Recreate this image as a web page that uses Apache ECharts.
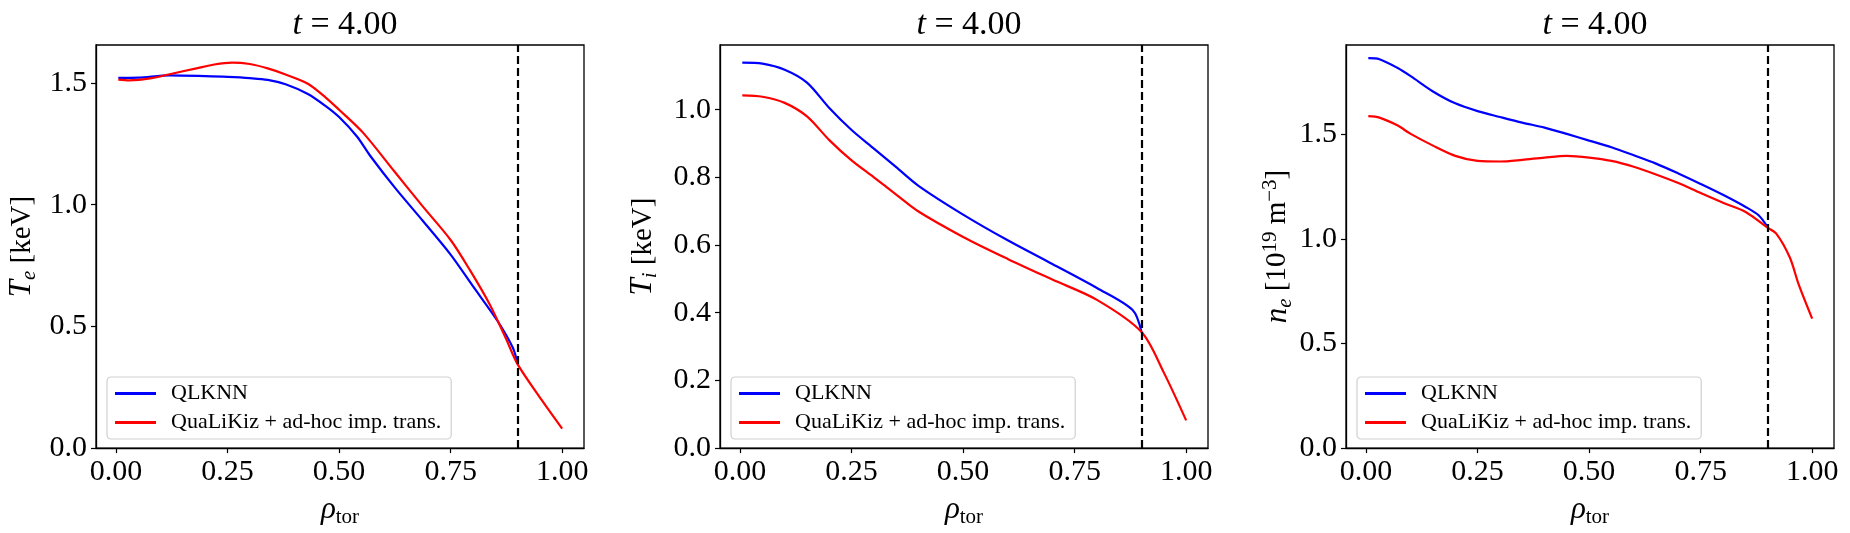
<!DOCTYPE html>
<html>
<head>
<meta charset="utf-8">
<script src="https://cdn.jsdelivr.net/npm/echarts@6/dist/echarts.min.js"></script>
<style>
html,body{margin:0;padding:0;background:#fff;}
#main{width:1850px;height:533px;}
</style>
</head>
<body>
<div id="main"></div>
<script>
var chart = echarts.init(document.getElementById('main'));

// ---- data ----
var teBlueX = [0.005, 0.05, 0.12, 0.2, 0.25, 0.3, 0.34, 0.38, 0.43, 0.47, 0.5, 0.54, 0.57, 0.625, 0.687, 0.75, 0.8, 0.856, 0.89, 0.9];
var teBlue  = [1.521, 1.522, 1.531, 1.528, 1.525, 1.52, 1.513, 1.495, 1.455, 1.405, 1.36, 1.28, 1.2, 1.07, 0.935, 0.795, 0.665, 0.52, 0.41, 0.345];
var teRedX  = [0.005, 0.03, 0.08, 0.12, 0.18, 0.22, 0.26, 0.3, 0.34, 0.38, 0.43, 0.47, 0.5, 0.554, 0.625, 0.687, 0.75, 0.794, 0.838, 0.874, 0.9, 0.954, 1.0];
var teRed   = [1.514, 1.511, 1.52, 1.536, 1.56, 1.576, 1.584, 1.578, 1.56, 1.535, 1.497, 1.44, 1.39, 1.295, 1.134, 0.994, 0.855, 0.729, 0.589, 0.45, 0.345, 0.198, 0.08];

var tiBlueX = [0.005, 0.05, 0.1, 0.15, 0.2, 0.25, 0.3, 0.35, 0.4, 0.5, 0.6, 0.7, 0.8, 0.88, 0.9];
var tiBlue  = [1.139, 1.136, 1.118, 1.08, 1.005, 0.94, 0.885, 0.83, 0.775, 0.69, 0.614, 0.544, 0.473, 0.408, 0.343];
var tiRedX  = [0.005, 0.05, 0.1, 0.15, 0.2, 0.25, 0.3, 0.35, 0.4, 0.5, 0.6, 0.7, 0.8, 0.9, 0.95, 1.0];
var tiRed   = [1.042, 1.038, 1.02, 0.98, 0.91, 0.85, 0.8, 0.749, 0.699, 0.624, 0.559, 0.498, 0.438, 0.343, 0.223, 0.082];

var neBlueX = [0.005, 0.03, 0.07, 0.1, 0.15, 0.2, 0.25, 0.3, 0.35, 0.4, 0.45, 0.5, 0.55, 0.6, 0.65, 0.7, 0.75, 0.8, 0.85, 0.88, 0.9];
var neBlue  = [1.864, 1.859, 1.818, 1.778, 1.705, 1.648, 1.611, 1.583, 1.556, 1.532, 1.502, 1.47, 1.438, 1.4, 1.36, 1.313, 1.263, 1.211, 1.154, 1.113, 1.057];
var neRedX  = [0.005, 0.03, 0.07, 0.1, 0.15, 0.2, 0.25, 0.3, 0.35, 0.4, 0.45, 0.5, 0.55, 0.6, 0.65, 0.7, 0.75, 0.8, 0.85, 0.9, 0.92, 0.95, 0.97, 1.0];
var neRed   = [1.587, 1.58, 1.543, 1.502, 1.446, 1.397, 1.373, 1.37, 1.378, 1.389, 1.397, 1.389, 1.373, 1.345, 1.308, 1.267, 1.219, 1.173, 1.13, 1.054, 1.024, 0.911, 0.781, 0.619];

var xTicks = [0, 0.25, 0.5, 0.75, 1.0];
var teTicks = [0, 0.5, 1.0, 1.5];
var tiTicks = [0, 0.2, 0.4, 0.6, 0.8, 1.0];
var neTicks = [0, 0.5, 1.0, 1.5];
var boundary = 0.9;
var names = ['QLKNN', 'QuaLiKiz + ad-hoc imp. trans.'];

function zip(xs, ys) {
    var out = [];
    for (var i = 0; i < xs.length; i++) out.push([xs[i], ys[i]]);
    return out;
}

var FONT = 'Liberation Serif';
var gridLeft = [96, 720, 1346];
var gridW = 488, gridTop = 45, gridH = 405;
var yMax = [1.656, 1.191, 1.927];
var yTicks = [teTicks, tiTicks, neTicks];
var yNames = ['{v|T}{s|e} [keV]', '{v|T}{s|i} [keV]', '{v|n}{s|e} [10{p|19} m{p|\u22123}]'];
var yGaps = [56, 59, 48];

var nameRich = {
    v: {fontFamily: FONT, fontStyle: 'italic', fontSize: 31, lineHeight: 36, color: '#000'},
    s: {fontFamily: FONT, fontStyle: 'italic', fontSize: 21, lineHeight: 16, verticalAlign: 'bottom', color: '#000'},
    p: {fontFamily: FONT, fontSize: 21, lineHeight: 16, verticalAlign: 'top', color: '#000'},
    t: {fontFamily: FONT, fontSize: 21, lineHeight: 16, verticalAlign: 'bottom', color: '#000'}
};

var grids = [], xAxes = [], yAxes = [], titles = [], legends = [], series = [];
var blues = [zip(teBlueX, teBlue), zip(tiBlueX, tiBlue), zip(neBlueX, neBlue)];
var reds = [zip(teRedX, teRed), zip(tiRedX, tiRed), zip(neRedX, neRed)];

for (var k = 0; k < 3; k++) {
    grids.push({left: gridLeft[k], top: gridTop, width: gridW, height: gridH, show: true,
        borderColor: '#000', borderWidth: 1.3, backgroundColor: 'transparent'});
    titles.push({
        text: '{i|t} = 4.00', left: gridLeft[k] + gridW / 2, top: 3, textAlign: 'center',
        textStyle: {fontFamily: FONT, fontSize: 34, fontWeight: 'normal', color: '#000',
            rich: {i: {fontFamily: FONT, fontStyle: 'italic', fontSize: 34, color: '#000'}}}
    });
    xAxes.push({
        type: 'value', gridIndex: k, min: -0.045, max: 1.049,
        name: '{v|\u03c1}{t|tor}', nameLocation: 'middle', nameGap: 39,
        nameTextStyle: {fontFamily: FONT, fontSize: 29, color: '#000', lineHeight: 36, rich: nameRich},
        axisLine: {show: true, onZero: false, lineStyle: {color: '#000', width: 1.3}},
        axisTick: {show: true, length: 5, customValues: xTicks, lineStyle: {color: '#000', width: 1.2}},
        axisLabel: {customValues: xTicks, margin: 9, fontFamily: FONT, fontSize: 30, color: '#000',
            formatter: function (v) { return v.toFixed(2); }},
        splitLine: {show: false}
    });
    yAxes.push({
        type: 'value', gridIndex: k, min: 0, max: yMax[k],
        name: yNames[k], nameLocation: 'middle', nameGap: yGaps[k], nameRotate: 90,
        nameTextStyle: {fontFamily: FONT, fontSize: 29, color: '#000', lineHeight: 36, rich: nameRich},
        axisLine: {show: true, onZero: false, lineStyle: {color: '#000', width: 1.3}},
        axisTick: {show: true, length: 5, customValues: yTicks[k], lineStyle: {color: '#000', width: 1.2}},
        axisLabel: {customValues: yTicks[k], margin: 9, fontFamily: FONT, fontSize: 30, color: '#000',
            formatter: function (v) { return v.toFixed(1); }},
        splitLine: {show: false}
    });
    legends.push({
        data: names, orient: 'vertical', left: gridLeft[k] + 11, top: 377,
        icon: 'rect', itemWidth: 41, itemHeight: 3, itemGap: 6,
        padding: [5, 10, 5, 8], borderColor: '#d0d0d0', borderWidth: 1.2, borderRadius: 4,
        backgroundColor: 'rgba(255,255,255,0.8)', selectedMode: false,
        textStyle: {fontFamily: FONT, fontSize: 22, color: '#000', lineHeight: 23, padding: [0, 0, 0, 10]}
    });
    series.push({
        name: names[0], type: 'line', xAxisIndex: k, yAxisIndex: k, data: blues[k],
        symbol: 'none', smooth: 0.3,
        lineStyle: {color: '#0000ff', width: 2.2}, itemStyle: {color: '#0000ff'}, z: 3
    });
    series.push({
        name: names[1], type: 'line', xAxisIndex: k, yAxisIndex: k, data: reds[k],
        symbol: 'none', smooth: 0.3,
        lineStyle: {color: '#ff0000', width: 2.2}, itemStyle: {color: '#ff0000'}, z: 4,
        markLine: {
            silent: true, symbol: 'none', label: {show: false},
            lineStyle: {color: '#000', type: [8, 4], width: 2.2},
            data: [{xAxis: boundary}]
        }
    });
}

chart.setOption({
    animation: false,
    title: titles,
    grid: grids,
    xAxis: xAxes,
    yAxis: yAxes,
    legend: legends,
    series: series
});
</script>
</body>
</html>
